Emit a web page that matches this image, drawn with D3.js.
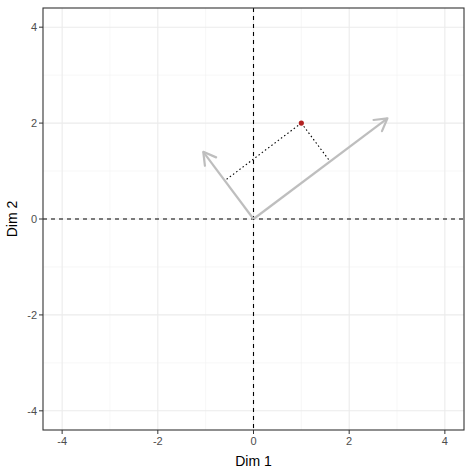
<!DOCTYPE html>
<html><head><meta charset="utf-8">
<script src="https://cdn.jsdelivr.net/npm/d3@7"></script>
<style>body{margin:0;background:#fff}</style>
</head><body><svg id="chart" width="474" height="474"></svg>
<script>
// vectors (arrows from origin), the point, and its projections
var arrows = [[2.8, 2.1], [-1.05, 1.4]];
var point = [1, 2];
var projections = [[1.6, 1.2], [-0.6, 0.8]];
var ticks = [-4, -2, 0, 2, 4];
var minorTicks = [-3, -1, 1, 3];

(function() {
var svg = d3.select("#chart");
var pl = 43, pr = 464, pt = 8, pb = 430;
var x = d3.scaleLinear().domain([-4.4, 4.4]).range([pl, pr]);
var y = d3.scaleLinear().domain([-4.4, 4.4]).range([pb, pt]);
var font = "Liberation Sans, Arial, sans-serif";

var grid = svg.append("g");
minorTicks.forEach(function(t) {
  grid.append("line").attr("x1", x(t)).attr("x2", x(t)).attr("y1", pt).attr("y2", pb).attr("stroke", "#f2f2f2").attr("stroke-width", 0.6);
  grid.append("line").attr("y1", y(t)).attr("y2", y(t)).attr("x1", pl).attr("x2", pr).attr("stroke", "#f2f2f2").attr("stroke-width", 0.6);
});
ticks.forEach(function(t) {
  grid.append("line").attr("x1", x(t)).attr("x2", x(t)).attr("y1", pt).attr("y2", pb).attr("stroke", "#ebebeb").attr("stroke-width", 1.1);
  grid.append("line").attr("y1", y(t)).attr("y2", y(t)).attr("x1", pl).attr("x2", pr).attr("stroke", "#ebebeb").attr("stroke-width", 1.1);
});

// reference lines
svg.append("line").attr("x1", x(0)).attr("x2", x(0)).attr("y1", pt).attr("y2", pb).attr("stroke", "#000").attr("stroke-width", 1.1).attr("stroke-dasharray", "4,4");
svg.append("line").attr("y1", y(0)).attr("y2", y(0)).attr("x1", pl).attr("x2", pr).attr("stroke", "#000").attr("stroke-width", 1.1).attr("stroke-dasharray", "4,4");

// dotted projection lines
projections.forEach(function(p) {
  svg.append("line").attr("x1", x(point[0])).attr("y1", y(point[1])).attr("x2", x(p[0])).attr("y2", y(p[1]))
    .attr("stroke", "#000").attr("stroke-width", 1.1).attr("stroke-dasharray", "1.5,2.5");
});

// arrows
arrows.forEach(function(a) {
  var x0 = x(0), y0 = y(0), x1 = x(a[0]), y1 = y(a[1]);
  var ang = Math.atan2(y1 - y0, x1 - x0), len = 14, spread = Math.PI / 6;
  svg.append("line").attr("x1", x0).attr("y1", y0).attr("x2", x1).attr("y2", y1)
    .attr("stroke", "#bebebe").attr("stroke-width", 2.2);
  svg.append("path")
    .attr("d", "M" + (x1 - len * Math.cos(ang - spread)) + "," + (y1 - len * Math.sin(ang - spread)) +
      "L" + x1 + "," + y1 + "L" + (x1 - len * Math.cos(ang + spread)) + "," + (y1 - len * Math.sin(ang + spread)))
    .attr("fill", "none").attr("stroke", "#bebebe").attr("stroke-width", 2.2).attr("stroke-linecap", "round").attr("stroke-linejoin", "round");
});

svg.append("circle").attr("cx", x(point[0])).attr("cy", y(point[1])).attr("r", 2.6).attr("fill", "#b22222");

// panel border
svg.append("rect").attr("x", pl).attr("y", pt).attr("width", pr - pl).attr("height", pb - pt)
  .attr("fill", "none").attr("stroke", "#333").attr("stroke-width", 1.1);

// axes
ticks.forEach(function(t) {
  svg.append("line").attr("x1", x(t)).attr("x2", x(t)).attr("y1", pb).attr("y2", pb + 4).attr("stroke", "#333");
  svg.append("text").attr("x", x(t)).attr("y", pb + 15).attr("text-anchor", "middle")
    .attr("font-family", font).attr("font-size", 11).attr("fill", "#4d4d4d").text(t);
  svg.append("line").attr("x1", pl - 4).attr("x2", pl).attr("y1", y(t)).attr("y2", y(t)).attr("stroke", "#333");
  svg.append("text").attr("x", pl - 6).attr("y", y(t) + 4).attr("text-anchor", "end")
    .attr("font-family", font).attr("font-size", 11).attr("fill", "#4d4d4d").text(t);
});
svg.append("text").attr("x", (pl + pr) / 2).attr("y", 466).attr("text-anchor", "middle")
  .attr("font-family", font).attr("font-size", 14).text("Dim 1");
svg.append("text").attr("transform", "translate(17," + (pt + pb) / 2 + ") rotate(-90)").attr("text-anchor", "middle")
  .attr("font-family", font).attr("font-size", 14).text("Dim 2");
})();
</script></body></html>
